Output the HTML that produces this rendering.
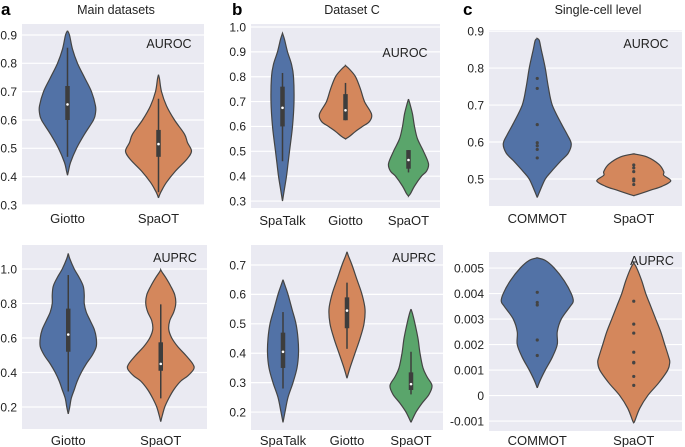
<!DOCTYPE html>
<html><head><meta charset="utf-8">
<style>
body{margin:0;background:#fff;}
svg{display:block;font-family:"Liberation Sans",sans-serif;}
</style></head>
<body>
<svg id="fig" width="685" height="447" viewBox="0 0 685 447" xmlns="http://www.w3.org/2000/svg">
<text x="1" y="15" font-size="17" font-weight="bold">a</text>
<text x="232" y="15" font-size="17" font-weight="bold">b</text>
<text x="463" y="15" font-size="17" font-weight="bold">c</text>
<text x="116" y="14" font-size="12.5" text-anchor="middle" fill="#222">Main datasets</text>
<text x="352" y="14" font-size="12.5" text-anchor="middle" fill="#222">Dataset C</text>
<text x="598" y="14" font-size="12.5" text-anchor="middle" fill="#222">Single-cell level</text>
</svg>
<script>
// ---- data ----
const catsA = ["Giotto","SpaOT"];
const catsB = ["SpaTalk","Giotto","SpaOT"];
const catsC = ["COMMOT","SpaOT"];
const ticksA1 = [0.3,0.4,0.5,0.6,0.7,0.8,0.9];
const ticksA2 = [0.2,0.4,0.6,0.8,1.0];
const ticksB1 = [0.3,0.4,0.5,0.6,0.7,0.8,0.9,1.0];
const ticksB2 = [0.2,0.3,0.4,0.5,0.6,0.7];
const ticksC1 = [0.5,0.6,0.7,0.8,0.9];
const ticksC2 = [-0.001,0,0.001,0.002,0.003,0.004,0.005];
const tickLabC2 = ["-0.001","0","0.001","0.002","0.003","0.004","0.005"];
// density profiles: [value, relative density]
const densA1 = [
 [[0.405,0],[0.42,1],[0.45,3],[0.5,9],[0.55,17],[0.6,26],[0.625,28],[0.65,28],[0.7,24],[0.75,17],[0.8,10],[0.85,5],[0.9,2],[0.915,0]],
 [[0.325,0],[0.335,1],[0.35,3],[0.38,8],[0.42,17],[0.46,28],[0.49,33],[0.52,29],[0.55,26],[0.6,16],[0.65,8],[0.7,3],[0.745,1],[0.76,0]]
];
const boxA1 = [[0.47,0.60,0.655,0.72,0.855],[0.345,0.47,0.515,0.565,0.675]];
const densA2 = [
 [[0.16,0],[0.2,1.5],[0.25,3],[0.3,6],[0.35,9],[0.4,13],[0.45,18],[0.5,24],[0.55,28],[0.6,28],[0.65,26],[0.7,22],[0.75,18],[0.8,16],[0.85,16],[0.9,15],[0.95,11],[1.0,6],[1.06,1.5],[1.09,0]],
 [[0.115,0],[0.15,1.5],[0.2,4],[0.25,8],[0.3,13],[0.35,20],[0.38,27],[0.42,33],[0.45,32],[0.5,25],[0.55,17],[0.6,11],[0.65,8],[0.7,9],[0.75,13],[0.8,15],[0.85,14],[0.9,10],[0.95,5],[0.98,1.5],[0.995,0]]
];
const boxA2 = [[0.29,0.52,0.62,0.77,0.965],[0.25,0.41,0.45,0.575,0.795]];
const densB1 = [
 [[0.3,0],[0.35,2],[0.4,4],[0.45,5.5],[0.5,7],[0.6,10],[0.7,11.5],[0.8,11],[0.85,9],[0.9,5],[0.95,2],[0.975,0]],
 [[0.55,0],[0.56,4],[0.58,10],[0.6,17],[0.62,24],[0.65,26],[0.7,19],[0.75,15],[0.8,10],[0.83,4],[0.845,0]],
 [[0.32,0],[0.33,2],[0.36,6],[0.4,13],[0.42,18],[0.45,20],[0.5,15],[0.55,9],[0.6,6],[0.65,4],[0.69,1.5],[0.71,0]]
];
const boxB1 = [[0.46,0.60,0.675,0.76,0.815],[0.625,0.625,0.665,0.73,0.775],[0.415,0.43,0.465,0.505,0.505]];
const densB2 = [
 [[0.165,0],[0.2,2],[0.25,5],[0.3,10],[0.35,14],[0.4,15.5],[0.45,15],[0.5,13],[0.55,9],[0.6,5],[0.635,1.5],[0.65,0]],
 [[0.315,0],[0.35,3],[0.4,8],[0.45,13],[0.5,17],[0.55,18],[0.6,15],[0.65,10],[0.7,5],[0.73,1.5],[0.745,0]],
 [[0.165,0],[0.2,5],[0.23,11],[0.26,18],[0.29,21],[0.32,16],[0.35,12],[0.4,9],[0.45,7],[0.5,4],[0.535,1.5],[0.55,0]]
];
const boxB2 = [[0.28,0.35,0.405,0.47,0.54],[0.415,0.485,0.545,0.59,0.64],[0.26,0.275,0.295,0.335,0.405]];
const densC1 = [
 [[0.45,0],[0.47,3],[0.5,8],[0.52,14],[0.55,24],[0.57,31],[0.595,34],[0.62,30],[0.65,24],[0.7,15],[0.75,11],[0.8,8],[0.85,4],[0.875,2],[0.88,0]],
 [[0.455,0],[0.46,6],[0.47,17],[0.48,28],[0.495,37],[0.51,30],[0.52,30],[0.54,25],[0.56,13],[0.568,0]]
];
const ptsC1 = [[0.772,0.745,0.647,0.598,0.59,0.58,0.557],[0.538,0.53,0.52,0.5,0.495,0.485]];
const densC2 = [
 [[0.0003,0],[0.0006,3],[0.001,8],[0.0015,15],[0.002,20],[0.0025,20],[0.003,24],[0.0035,33],[0.0037,36],[0.004,34],[0.0045,27],[0.005,17],[0.0053,8],[0.0054,0]],
 [[-0.00105,0],[-0.001,1],[-0.0005,6],[0,14],[0.0005,25],[0.001,34],[0.0013,36],[0.0015,35],[0.002,31],[0.0025,27],[0.003,22],[0.0035,17],[0.004,12],[0.0045,8],[0.005,3],[0.0052,0]]
];
const ptsC2 = [[0.00405,0.00365,0.00355,0.00218,0.00157],[0.0037,0.0028,0.00245,0.0017,0.0013,0.00128,0.00075,0.0004]];

// ---- drawing ----
const NS="http://www.w3.org/2000/svg";
const svg=document.getElementById('fig');
const colA=["#5272a6","#d4875c"], colB=["#5272a6","#d4875c","#5aa56b"];
function mk(tag,attrs,parent){const e=document.createElementNS(NS,tag);for(const k in attrs)e.setAttribute(k,attrs[k]);(parent||svg).appendChild(e);return e;}
function smooth(pts){let d="M"+pts[0][0]+","+pts[0][1];for(let i=0;i<pts.length-1;i++){const p0=pts[Math.max(0,i-1)],p1=pts[i],p2=pts[i+1],p3=pts[Math.min(pts.length-1,i+2)];const c1=[p1[0]+(p2[0]-p0[0])/6,p1[1]+(p2[1]-p0[1])/6],c2=[p2[0]-(p3[0]-p1[0])/6,p2[1]-(p3[1]-p1[1])/6];d+=" C"+c1[0].toFixed(2)+","+c1[1].toFixed(2)+" "+c2[0].toFixed(2)+","+c2[1].toFixed(2)+" "+p2[0].toFixed(2)+","+p2[1].toFixed(2);}return d;}
function panel(o){
  const g=mk('g',{});
  
  
  const y=v=>o.y1-(v-o.vmin)/(o.vmax-o.vmin)*(o.y1-o.y0);
  const n=o.cats.length, step=(o.x1-o.x0)/n;
  const x=i=>o.x0+step*(i+0.5);
  const bg=mk('rect',{x:o.x0,y:o.y0,width:o.x1-o.x0,height:o.y1-o.y0,fill:"#eaeaf2"},g);
  
  
  o.ticks.forEach((t,i)=>{
    const l=mk('line',{x1:o.x0,x2:o.x1,y1:y(t),y2:y(t),stroke:"#fff","stroke-width":1.2},g);
    
    
    const tx=mk('text',{x:o.x0-5,y:y(t)+4.3,"text-anchor":"end","font-size":12,fill:"#222"},g);
    
    
    tx.textContent=o.labels?o.labels[i]:t.toFixed(1);
  });
  o.cats.forEach((c,i)=>{
    const tx=mk('text',{x:x(i),y:o.y1+o.ld,"text-anchor":"middle","font-size":13,fill:"#222"},g);
    
    
    tx.textContent=c;
    const dens=o.dens[i];
    const right=dens.map(p=>[x(i)+p[1]*o.ws,y(p[0])]);
    const left=dens.slice().reverse().map(p=>[x(i)-p[1]*o.ws,y(p[0])]);
    const d=smooth(right)+" "+smooth(left).replace(/^M/,"L")+" Z";
    const v=mk('path',{d:d,fill:o.cols[i],stroke:"#444","stroke-width":1.2},g);
    
    
    if(o.box){const b=o.box[i];
      const w=mk('line',{x1:x(i),x2:x(i),y1:y(b[0]),y2:y(b[4]),stroke:"#3d3d3d","stroke-width":1.5},g);
      
      
      const bx=mk('line',{x1:x(i),x2:x(i),y1:y(b[1]),y2:y(b[3]),stroke:"#3d3d3d","stroke-width":4.5},g);
      
      
      const m=mk('circle',{cx:x(i),cy:y(b[2]),r:1.3,fill:"#fff"},g);
      
      
    }
    if(o.pts){o.pts[i].forEach(p=>{
      const m=mk('circle',{cx:x(i),cy:y(p),r:1.6,fill:"#444"},g);
      
      
    });}
  });
  const lb=mk('text',{x:o.lx,y:o.ly,"text-anchor":"middle","font-size":12.5,fill:"#222"},g);
  
  
  lb.textContent=o.metric;
}
panel({name:'panel-a-auroc',x0:22,x1:204,y0:24,y1:205,vmin:0.3,vmax:0.9388,ticks:ticksA1,cats:catsA,dens:densA1,box:boxA1,cols:colA,ws:1,metric:"AUROC",lx:169,ly:48,ld:18});
panel({name:'panel-a-auprc',x0:22,x1:207,y0:245,y1:429,vmin:0.0725,vmax:1.139,ticks:ticksA2,cats:catsA,dens:densA2,box:boxA2,cols:colA,ws:1,metric:"AUPRC",lx:175,ly:262,ld:16});
panel({name:'panel-b-auroc',x0:251,x1:440,y0:24,y1:208,vmin:0.272,vmax:1.012,ticks:ticksB1,cats:catsB,dens:densB1,box:boxB1,cols:colB,ws:1,metric:"AUROC",lx:405,ly:57,ld:17});
panel({name:'panel-b-auprc',x0:251,x1:443,y0:245,y1:430,vmin:0.139,vmax:0.768,ticks:ticksB2,cats:catsB,dens:densB2,box:boxB2,cols:colB,ws:1,metric:"AUPRC",lx:414,ly:262,ld:15});
panel({name:'panel-c-auroc',x0:489,x1:682,y0:30,y1:206,vmin:0.427,vmax:0.903,ticks:ticksC1,cats:catsC,dens:densC1,pts:ptsC1,cols:colA,ws:1,metric:"AUROC",lx:646,ly:48,ld:17});
panel({name:'panel-c-auprc',x0:489,x1:682,y0:252,y1:431,vmin:-0.00139,vmax:0.00563,ticks:ticksC2,labels:tickLabC2,cats:catsC,dens:densC2,pts:ptsC2,cols:colA,ws:1,metric:"AUPRC",lx:652,ly:265,ld:14});
</script>
</body></html>
